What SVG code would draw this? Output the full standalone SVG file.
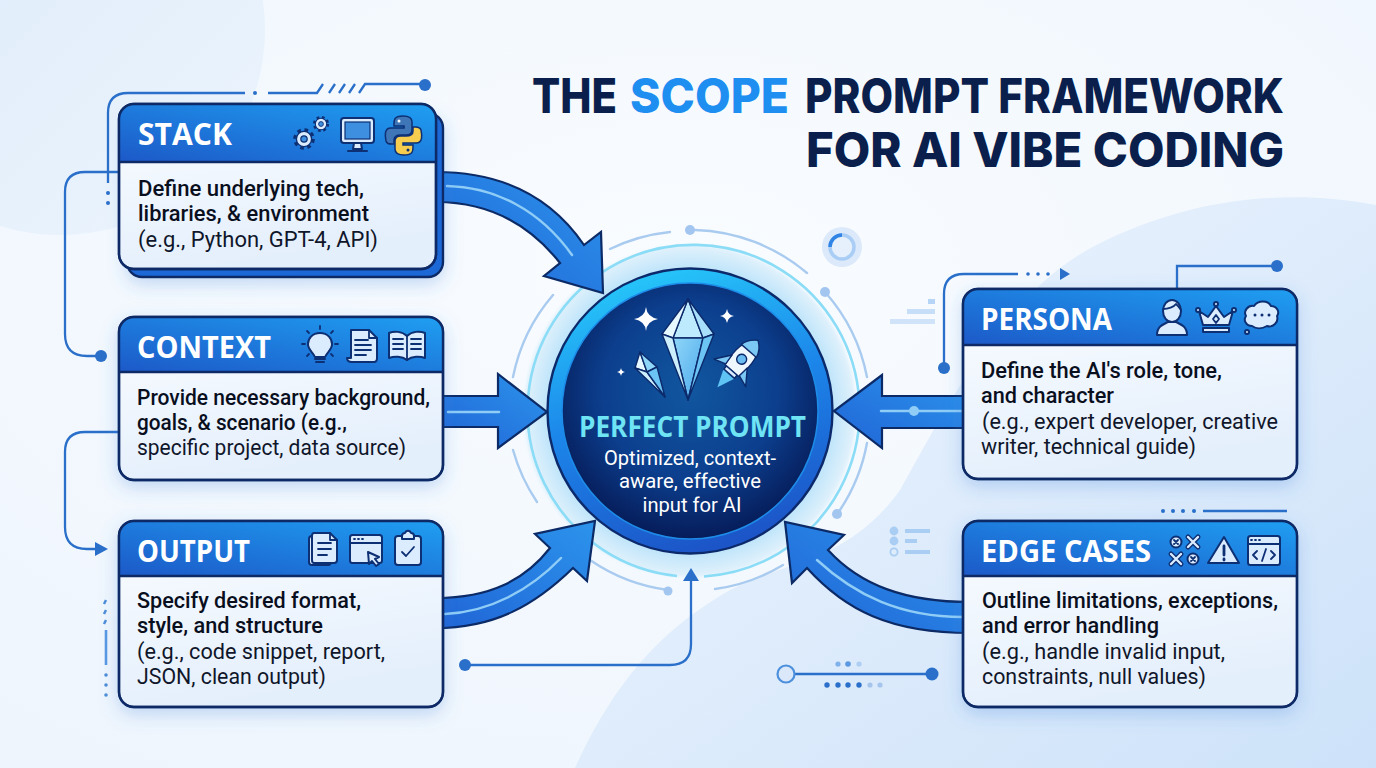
<svg xmlns="http://www.w3.org/2000/svg" width="1376" height="768" viewBox="0 0 1376 768">
<style>
.hd{font-family:"Open Sans","Noto Sans","Liberation Sans",sans-serif;font-weight:700;font-size:31px;fill:#fff}
.b{font-family:Roboto,"Liberation Sans",sans-serif;font-weight:500;font-size:21.5px;fill:#0a0f1e}
.r{font-family:Roboto,"Liberation Sans",sans-serif;font-weight:400;font-size:21.5px;fill:#10162a}
.t{font-family:Inter,"Liberation Sans",sans-serif;font-weight:800;font-size:48px;fill:#0b1f4d}
.card{fill:url(#body);stroke:#0e2a66;stroke-width:2.4}
.head{fill:url(#hdr)}
.edge{fill:none;stroke:#0e2a66;stroke-width:2.4}
.ar{fill:url(#arrow);stroke:#0b2a66;stroke-width:2.2;stroke-linejoin:miter}
.hl{fill:none;stroke:#8fcdf7;stroke-width:2.5;stroke-linecap:round}
.ln{fill:none;stroke:#2a6fc9;stroke-width:2.3}
.dot{fill:#2a6fc9}
.arc{fill:none;stroke:#a9cbf0;stroke-width:2.4;stroke-linecap:round}
.ic{fill:#dcecff;stroke:#0d2f73;stroke-width:2;stroke-linejoin:round;stroke-linecap:round}
.il{fill:none;stroke:#0d2f73;stroke-width:1.8;stroke-linecap:round;stroke-linejoin:round}
.cr{stroke:#0c2a6b;stroke-width:1.4;stroke-linejoin:round}
</style>
<defs>
<radialGradient id="bg" cx="0.5" cy="0.35" r="0.8"><stop offset="0" stop-color="#f9fcff"/><stop offset="1" stop-color="#eef5fd"/></radialGradient>
<linearGradient id="blobA" x1="0" y1="0" x2="1" y2="1"><stop offset="0" stop-color="#dbe9f9"/><stop offset="1" stop-color="#edf5fd"/></linearGradient>
<linearGradient id="blobB" x1="0" y1="0" x2="1" y2="1"><stop offset="0" stop-color="#f0f6fe"/><stop offset="1" stop-color="#cde2f9"/></linearGradient>
<linearGradient id="body" x1="0" y1="0" x2="0.3" y2="1"><stop offset="0" stop-color="#fbfdff"/><stop offset="1" stop-color="#e4effc"/></linearGradient>
<linearGradient id="hdr" x1="0" y1="1" x2="1" y2="0"><stop offset="0" stop-color="#1c59c8"/><stop offset="1" stop-color="#1f9ff2"/></linearGradient>
<linearGradient id="arrow" gradientUnits="objectBoundingBox" x1="0" y1="1" x2="1" y2="0"><stop offset="0" stop-color="#2064d6"/><stop offset="1" stop-color="#2c94ec"/></linearGradient>
<linearGradient id="ringG" x1="0.2" y1="0" x2="0.5" y2="1"><stop offset="0" stop-color="#27cdfb"/><stop offset="0.5" stop-color="#1c86ea"/><stop offset="1" stop-color="#1c55c8"/></linearGradient>
<radialGradient id="disc" cx="0.5" cy="0.42" r="0.62"><stop offset="0" stop-color="#11579f"/><stop offset="0.55" stop-color="#0c3f8e"/><stop offset="1" stop-color="#051650"/></radialGradient>
<radialGradient id="halo"><stop offset="0.82" stop-color="#b5e0f9"/><stop offset="1" stop-color="#e2f2fc"/></radialGradient>
<linearGradient id="cry" x1="0" y1="0" x2="1" y2="1"><stop offset="0" stop-color="#8fd6f8"/><stop offset="1" stop-color="#4aa8ec"/></linearGradient>
<filter id="sh" x="-15%" y="-15%" width="130%" height="135%"><feDropShadow dx="0" dy="6" stdDeviation="9" flood-color="#3d7fd8" flood-opacity="0.28"/></filter>
<filter id="gl" x="-20%" y="-20%" width="140%" height="140%"><feGaussianBlur stdDeviation="1.500"/></filter>
<g id="gear"><circle r="8.5" fill="none" stroke="#0d2f73" stroke-width="4.6" stroke-dasharray="3.4 3.3"/><circle r="7.6" fill="#dcecff" stroke="#0d2f73" stroke-width="1.4"/><circle r="3.2" fill="#3f8fe0" stroke="#0d2f73" stroke-width="1.2"/></g>
</defs>

<rect width="1376" height="768" fill="url(#bg)"/>
<circle cx="60" cy="30" r="205" fill="url(#blobA)"/>
<path d="M1376 205C1270 185 1170 205 1087 250C1000 300 945 410 900 490C850 560 790 560 730 590C670 625 620 670 575 768L1376 768Z" fill="url(#blobB)"/>

<g id="perfect-prompt">
<circle cx="690" cy="411" r="166" fill="url(#halo)" filter="url(#gl)"/>
<path d="M677 576A166 166 0 1 1 704 576.500" fill="none" stroke="#8bdcf6" stroke-width="2.6"/>
<path class="arc" d="M610 249A181 181 0 0 1 670 232M695 230A181 181 0 0 1 807 273M825 292A180 180 0 0 1 867 377M840 510A180 180 0 0 0 867 443M553 295A180 180 0 0 0 513 377M513 450A180 180 0 0 0 537 502M590 560A180 180 0 0 0 668 590M715 589A180 180 0 0 0 783 565"/>
<g fill="#a3c6f0"><circle cx="690" cy="230" r="5"/><circle cx="825" cy="292" r="5"/><circle cx="837" cy="514" r="5"/><circle cx="668" cy="591" r="4.500"/></g>
<circle cx="842" cy="247" r="20" fill="#dbe9fb"/><circle cx="842" cy="247" r="12" fill="#e6f0fc" stroke="#a9cdf5" stroke-width="3.500"/><path d="M830 247A12 12 0 0 1 842 235" fill="none" stroke="#2f84e6" stroke-width="3.500"/>
<circle cx="690" cy="411" r="142.500" fill="url(#ringG)" stroke="#0c2a6b" stroke-width="2.400"/>
<circle cx="690" cy="411" r="128" fill="url(#disc)" stroke="#1d8ce8" stroke-width="1.500"/>
<path d="M646 307Q647 317 658 319Q647 321 646 331Q645 321 634 319Q645 317 646 307Z" fill="#fff"/>
<path d="M727 309Q728 315 734 316Q728 317 727 323Q726 317 720 316Q726 315 727 309Z" fill="#fff"/>
<path d="M621 368Q621.500 371.500 625 372Q621.500 372.500 621 376Q620.500 372.500 617 372Q620.500 371.500 621 368Z" fill="#fff"/>
<path class="cr" d="M688 299L673 338H703Z" fill="#bdeafc"/>
<path class="cr" d="M688 299L662 334L673 338Z" fill="#e6f8ff"/>
<path class="cr" d="M688 299L714 334L703 338Z" fill="#a8e0fb"/>
<path class="cr" d="M673 338H703L688 400Z" fill="url(#cry)"/>
<path class="cr" d="M662 334L673 338L688 400Z" fill="#cdeffc"/>
<path class="cr" d="M714 334L703 338L688 400Z" fill="#6cc4f5"/>
<path class="cr" d="M640 352L635 368L647 372Z" fill="#e6f8ff"/>
<path class="cr" d="M640 352L657 367L647 372Z" fill="#8ed6f8"/>
<path class="cr" d="M635 368L647 372L665 397Z" fill="#cdeffc"/>
<path class="cr" d="M657 367L647 372L665 397Z" fill="#6cc4f5"/>
<g transform="translate(741 360) rotate(41)">
<path class="cr" d="M0 -26C11 -17 12 -4 9 14H-9C-12 -4 -11 -17 0 -26Z" fill="#eef6fe"/>
<path class="cr" d="M0 -26C6 -22 9 -17 10 -12H-10C-9 -17 -6 -22 0 -26Z" fill="#7cc8f4"/>
<circle class="cr" cx="0" cy="-1" r="5" fill="#6bbcf0"/>
<path class="cr" d="M-10 2L-21 17L-9 13ZM10 2L21 17L9 13Z" fill="#7cc8f4"/>
<path class="cr" d="M-7 14H7V18H-7Z" fill="#dcecff"/>
<path d="M-7 19H7L0 36Z" fill="#5fc3f3"/>
</g>
<text x="692.500" y="437" text-anchor="middle" textLength="227" lengthAdjust="spacingAndGlyphs" style="font-family:'Open Sans','Noto Sans',sans-serif;font-weight:700;font-size:28px;fill:#6fe4f4">PERFECT PROMPT</text>
<g style="font-family:Roboto,'Liberation Sans',sans-serif;font-size:20px;fill:#fff" text-anchor="middle">
<text x="690" y="465" textLength="172" lengthAdjust="spacingAndGlyphs">Optimized, context-</text>
<text x="690" y="488" textLength="142" lengthAdjust="spacingAndGlyphs">aware, effective</text>
<text x="692" y="512" textLength="99" lengthAdjust="spacingAndGlyphs">input for AI</text>
</g>
</g>

<g id="connectors">
<path class="ln" d="M108 183V113Q108 93 128 93H245M268 93H317L323 84M359 93L365 84H425"/>
<path class="ln" d="M329 93L335 84M339 93L345 84M349 93L355 84"/>
<circle class="dot" cx="255" cy="93" r="2"/><circle class="dot" cx="425" cy="85" r="6"/><circle class="dot" cx="108" cy="193" r="2"/><circle class="dot" cx="108" cy="203" r="2"/>
<path class="ln" d="M122 172H85Q65 172 65 192V334Q65 356 87 356H100"/><circle class="dot" cx="101" cy="356" r="6"/>
<path class="ln" d="M122 432H85Q65 432 65 452V527Q65 549 87 549H97"/><path class="dot" d="M95 542L108 549L95 556Z"/>
<path class="ln" d="M465 665H670Q691 665 691 644V578"/><circle class="dot" cx="465" cy="665" r="6"/><path class="dot" d="M691 568L699 581H683Z"/>
<path class="ln" d="M944 368V294Q944 274 964 274H1018"/><circle class="dot" cx="944" cy="368" r="6"/>
<circle class="dot" cx="1028" cy="274" r="1.8"/><circle class="dot" cx="1038" cy="274" r="1.8"/><circle class="dot" cx="1048" cy="274" r="1.8"/><path class="dot" d="M1060 268L1070 274L1060 280Z"/>
<path class="ln" d="M1177 292V266H1277"/><circle class="dot" cx="1277" cy="266" r="6"/>
<circle class="dot" cx="1163" cy="511" r="2"/><circle class="dot" cx="1173" cy="511" r="2"/><circle class="dot" cx="1183" cy="511" r="2"/><circle class="dot" cx="1194" cy="511" r="2"/>
<path class="ln" d="M1203 511H1287"/>
<path d="M795 674H932" class="ln"/><circle cx="786" cy="674" r="8.5" fill="#dbe8fa" stroke="#4c8fdd" stroke-width="2.2"/><circle class="dot" cx="932" cy="674" r="6.5"/>
<g fill="#5a98e2"><circle cx="838" cy="664" r="2.6" opacity=".7"/><circle cx="848" cy="664" r="2.8"/><circle cx="859" cy="664" r="2.6" opacity=".35"/></g>
<g fill="#2a6fc9"><circle cx="827" cy="685" r="2.7"/><circle cx="838" cy="685" r="2.7"/><circle cx="848" cy="685" r="2.7"/><circle cx="859" cy="685" r="2.7"/><circle cx="870" cy="685" r="2.6" opacity=".3"/><circle cx="880" cy="685" r="2.6" opacity=".3"/></g>
<g fill="#a9cdf3"><circle cx="894" cy="531" r="4.4"/><circle cx="894" cy="541" r="4.4"/><circle cx="894" cy="552" r="3.6" fill="none" stroke="#a9cdf3" stroke-width="1.8"/><rect x="905" y="529" width="25" height="4"/><rect x="905" y="539" width="12" height="4"/><rect x="905" y="550" width="25" height="4"/></g>
<g fill="#b6d4f5"><rect x="928" y="299" width="7" height="5"/><rect x="907" y="309" width="28" height="5" opacity=".75"/><rect x="890" y="319" width="45" height="5" opacity=".6"/></g>
<path d="M106 600L104 604M106 610L104 614M106 620L104 624" stroke="#4f8ed8" stroke-width="2.5" fill="none"/>
<path d="M106 630V665" stroke="#5a98e2" stroke-width="2.6" fill="none"/>
<g fill="#4f8ed8"><circle cx="106" cy="675" r="1.8"/><circle cx="106" cy="685" r="1.8"/><circle cx="106" cy="695" r="1.8"/></g>
</g>

<g id="arrows">
<path class="ar" d="M436 172C500 172 550 195 584 245L601 232L603 293L544 276L560 263C530 225 490 202 436 202Z"/>
<path class="hl" d="M447 186C495 187 540 210 572 255"/>
<path class="ar" d="M436 396H498V374L547 412L498 448V427H436Z"/>
<path class="hl" d="M448 412H499"/>
<path class="ar" d="M436 598C490 598 525 580 550 548L535 534L595 521L587 581L573 568C535 605 495 628 436 628Z"/>
<path class="hl" d="M445 614C490 612 530 590 561 558"/>
<path class="ar" d="M970 396H882V375L834 411L882 448V428H970Z"/>
<path class="hl" d="M881 411H963"/><circle cx="914" cy="411" r="5" fill="#8fcdf7"/>
<path class="ar" d="M970 602C905 602 860 585 828 550L844 535L785 522L792 583L807 568C845 610 890 633 970 633Z"/>
<path class="hl" d="M817 560C855 595 900 617 963 617"/>
</g>

<g id="stack">
<rect x="127" y="113" width="316" height="164" rx="15" fill="#1e68d6" stroke="#0e2a66" stroke-width="2.400" filter="url(#sh)"/>
<rect class="card" x="119" y="104" width="317" height="165" rx="15"/>
<path class="head" d="M119 162V119A15 15 0 0 1 134 104H421A15 15 0 0 1 436 119V162Z"/>
<rect class="edge" x="119" y="104" width="317" height="165" rx="15"/><path class="edge" d="M119 162H436"/>
<text class="hd" x="138" y="145" textLength="94" lengthAdjust="spacingAndGlyphs">STACK</text>
<use href="#gear" x="304" y="139"/><use href="#gear" transform="translate(321 124) scale(.75)"/>
<rect class="ic" x="341" y="118" width="33" height="25" rx="3"/><rect x="345" y="122" width="25" height="17" fill="#3f8fe0" stroke="#0d2f73" stroke-width="1.200"/><path class="ic" d="M354 143H361L362 149H353ZM348 151H367"/>
<path d="M403 116C393 116 394 121 394 126H404V128H391C384 128 385 136 386 141C387 145 391 144 394 144V140C394 136 397 135 401 135H406C410 135 412 133 412 130V122C412 118 408 116 403 116Z" fill="#3f76b8" stroke="#0d2f73" stroke-width="1.500"/>
<path d="M404 155C414 155 413 150 413 145H403V143H416C423 143 422 135 421 130C420 126 416 127 413 127V131C413 135 410 136 406 136H401C397 136 395 138 395 141V149C395 153 399 155 404 155Z" fill="#f6cd4f" stroke="#0d2f73" stroke-width="1.500"/>
<circle cx="399" cy="121" r="1.500" fill="#fff"/><circle cx="408" cy="150" r="1.500" fill="#0d2f73"/>
<text class="b" x="138" y="196" textLength="226" lengthAdjust="spacingAndGlyphs">Define underlying tech,</text>
<text class="b" x="138" y="221" textLength="231" lengthAdjust="spacingAndGlyphs">libraries, &amp; environment</text>
<text class="r" x="138" y="247" textLength="240" lengthAdjust="spacingAndGlyphs">(e.g., Python, GPT-4, API)</text>
</g>

<g id="context">
<rect class="card" x="119" y="317" width="324" height="163" rx="15" filter="url(#sh)"/>
<path class="head" d="M119 372V332A15 15 0 0 1 134 317H428A15 15 0 0 1 443 332V372Z"/>
<rect class="edge" x="119" y="317" width="324" height="163" rx="15"/><path class="edge" d="M119 372H443"/>
<text class="hd" x="137" y="358" textLength="134" lengthAdjust="spacingAndGlyphs">CONTEXT</text>
<path class="ic" d="M320 333C312 333 308 339 308 344C308 350 313 352 315 357H325C327 352 332 350 332 344C332 339 328 333 320 333Z" fill="#f4f9ff"/><path class="ic" d="M315 359H325M316 362H324"/>
<path class="il" d="M320 326V329M307 331L309 333M333 331L331 333M302 344H305M335 344H338M307 356L309 354M333 356L331 354" stroke="#e8f3ff"/>
<path class="ic" d="M351 330H369L377 338V358C377 360 376 362 374 362H352C349 362 347 361 347 358H351Z"/><path class="il" d="M369 330V338H377M355 340H368M355 345H371M355 350H371M355 355H366"/>
<path class="ic" d="M407 336C402 331 394 331 389 333V358C394 356 402 356 407 360C412 356 420 356 425 358V333C420 331 412 331 407 336Z"/><path class="il" d="M407 336V360M393 339H403M393 344H403M393 349H403M411 339H421M411 344H421M411 349H421"/>
<text class="b" x="137" y="405" textLength="293" lengthAdjust="spacingAndGlyphs">Provide necessary background,</text>
<text class="b" x="137" y="430" textLength="210" lengthAdjust="spacingAndGlyphs">goals, &amp; scenario (e.g.,</text>
<text class="r" x="137" y="455" textLength="269" lengthAdjust="spacingAndGlyphs">specific project, data source)</text>
</g>

<g id="output">
<rect class="card" x="119" y="521" width="324" height="186" rx="15" filter="url(#sh)"/>
<path class="head" d="M119 576V536A15 15 0 0 1 134 521H428A15 15 0 0 1 443 536V576Z"/>
<rect class="edge" x="119" y="521" width="324" height="186" rx="15"/><path class="edge" d="M119 576H443"/>
<text class="hd" x="137" y="562" textLength="113" lengthAdjust="spacingAndGlyphs">OUTPUT</text>
<rect class="ic" x="309" y="536" width="22" height="29" rx="3"/><path class="ic" d="M314 533H330L337 540V560C337 562 336 563 334 563H314C313 563 312 562 312 560V536C312 534 313 533 314 533Z"/><path class="il" d="M330 533V540H337M318 543H331M318 549H331M318 555H327"/>
<rect class="ic" x="350" y="535" width="32" height="28" rx="2.500"/><path class="il" d="M350 543H382"/><path class="il" d="M354 539H355M358 539H359M362 539H363"/>
<path class="ic" d="M368 552L379 557L375 559L379 564L376 566L372 561L369 564Z" fill="#fff"/>
<rect class="ic" x="395" y="536" width="26" height="29" rx="3"/><path class="ic" d="M402 536C402 533 404 533 405 533C406 530 410 530 411 533C412 533 414 533 414 536V539H402Z"/><path class="il" d="M402 552L406 556L414 547"/>
<text class="b" x="137" y="608" textLength="224" lengthAdjust="spacingAndGlyphs">Specify desired format,</text>
<text class="b" x="137" y="633" textLength="186" lengthAdjust="spacingAndGlyphs">style, and structure</text>
<text class="r" x="137" y="659" textLength="248" lengthAdjust="spacingAndGlyphs">(e.g., code snippet, report,</text>
<text class="r" x="137" y="684" textLength="189" lengthAdjust="spacingAndGlyphs">JSON, clean output)</text>
</g>

<g id="persona">
<rect class="card" x="963" y="289" width="334" height="190" rx="15" filter="url(#sh)"/>
<path class="head" d="M963 345V304A15 15 0 0 1 978 289H1282A15 15 0 0 1 1297 304V345Z"/>
<rect class="edge" x="963" y="289" width="334" height="190" rx="15"/><path class="edge" d="M963 345H1297"/>
<text class="hd" x="981" y="330" textLength="131" lengthAdjust="spacingAndGlyphs">PERSONA</text>
<path class="ic" d="M1157 335C1157 326 1164 324 1168 322H1176C1180 324 1187 326 1187 335Z"/><ellipse class="ic" cx="1172" cy="311" rx="9" ry="11"/><path class="il" d="M1163 309C1168 309 1174 307 1176 304C1178 306 1180 308 1181 310"/>
<path class="ic" d="M1203 325L1199 311L1208 317L1216 306L1224 317L1233 311L1229 325ZM1203 328H1229V332H1203Z"/><circle class="ic" cx="1198" cy="310" r="2"/><circle class="ic" cx="1216" cy="304" r="2"/><circle class="ic" cx="1234" cy="310" r="2"/><path class="il" d="M1216 315L1219 319L1216 323L1213 319Z"/>
<path class="ic" d="M1252 326C1246 326 1243 320 1246 316C1243 311 1248 305 1254 306C1258 300 1268 300 1271 306C1277 306 1280 312 1277 316C1279 322 1273 328 1267 326C1262 329 1256 329 1252 326Z" fill="#f0f7ff"/>
<circle class="ic" cx="1247" cy="332" r="2" fill="#f0f7ff"/>
<g fill="#0d2f73"><circle cx="1255" cy="315" r="1.500"/><circle cx="1262" cy="315" r="1.500"/><circle cx="1269" cy="315" r="1.500"/></g>
<text class="b" x="981" y="378" textLength="241" lengthAdjust="spacingAndGlyphs">Define the AI's role, tone,</text>
<text class="b" x="981" y="403" textLength="133" lengthAdjust="spacingAndGlyphs">and character</text>
<text class="r" x="982" y="429" textLength="296" lengthAdjust="spacingAndGlyphs">(e.g., expert developer, creative</text>
<text class="r" x="981" y="454" textLength="215" lengthAdjust="spacingAndGlyphs">writer, technical guide)</text>
</g>

<g id="edge-cases">
<rect class="card" x="963" y="521" width="334" height="186" rx="15" filter="url(#sh)"/>
<path class="head" d="M963 576V536A15 15 0 0 1 978 521H1282A15 15 0 0 1 1297 536V576Z"/>
<rect class="edge" x="963" y="521" width="334" height="186" rx="15"/><path class="edge" d="M963 576H1297"/>
<text class="hd" x="981" y="562" textLength="170" lengthAdjust="spacingAndGlyphs">EDGE CASES</text>
<circle class="ic" cx="1176" cy="542" r="5.500"/><path class="il" d="M1174 540L1178 544M1178 540L1174 544"/>
<circle class="ic" cx="1193" cy="559" r="5.500"/><path class="il" d="M1191 557L1195 561M1195 557L1191 561"/>
<path d="M1188 537L1198 547M1198 537L1188 547M1171 554L1181 564M1181 554L1171 564" stroke="#0d2f73" stroke-width="5" stroke-linecap="round" fill="none"/>
<path d="M1188 537L1198 547M1198 537L1188 547M1171 554L1181 564M1181 554L1171 564" stroke="#dcecff" stroke-width="2.400" stroke-linecap="round" fill="none"/>
<path class="ic" d="M1224 537L1239 563H1208Z"/><path d="M1224 546V555M1224 559V560" stroke="#0d2f73" stroke-width="2.800" stroke-linecap="round" fill="none"/>
<rect class="ic" x="1248" y="536" width="32" height="29" rx="2.500"/><path class="il" d="M1248 544H1280M1251 540H1252M1255 540H1256M1259 540H1260M1257 551L1253 555L1257 559M1271 551L1275 555L1271 559M1266 549L1262 561"/>
<text class="b" x="982" y="608" textLength="296" lengthAdjust="spacingAndGlyphs">Outline limitations, exceptions,</text>
<text class="b" x="982" y="633" textLength="177" lengthAdjust="spacingAndGlyphs">and error handling</text>
<text class="r" x="982" y="659" textLength="243" lengthAdjust="spacingAndGlyphs">(e.g., handle invalid input,</text>
<text class="r" x="982" y="684" textLength="224" lengthAdjust="spacingAndGlyphs">constraints, null values)</text>
</g>

<g id="title">
<text class="t" x="532" y="113" textLength="85" lengthAdjust="spacingAndGlyphs">THE</text>
<text class="t" x="630" y="113" textLength="159" lengthAdjust="spacingAndGlyphs" style="fill:#1e8ff0">SCOPE</text>
<text class="t" x="805" y="113" textLength="479" lengthAdjust="spacingAndGlyphs">PROMPT FRAMEWORK</text>
<text class="t" x="806" y="167" textLength="478" lengthAdjust="spacingAndGlyphs">FOR AI VIBE CODING</text>
</g>
</svg>
